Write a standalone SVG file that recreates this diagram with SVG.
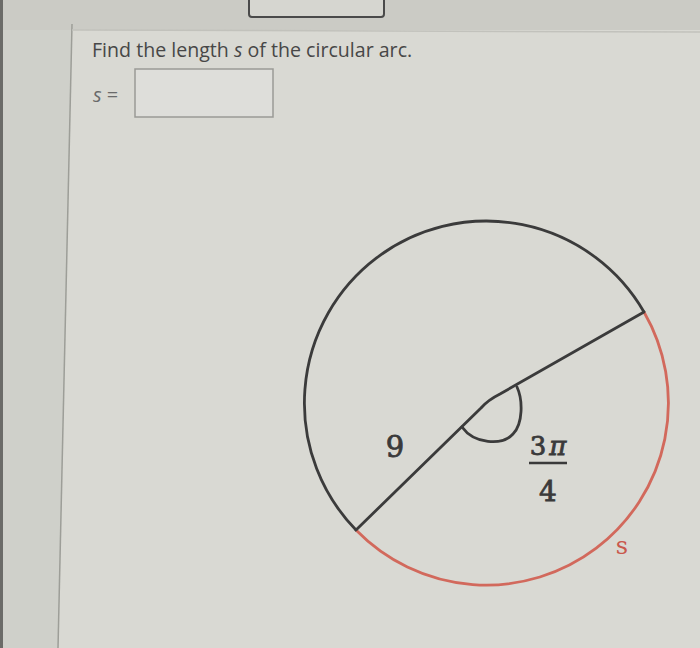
<svg xmlns="http://www.w3.org/2000/svg" width="700" height="648" viewBox="0 0 700 648">
  <style>
    .q { font-family: "Open Sans", "DejaVu Sans", sans-serif; fill: #474747; }
    .lbl { font-family: "DejaVu Serif", "Liberation Serif", serif; fill: #3a3a3a; stroke: #3a3a3a; stroke-width: 0.8; }
    .ink { fill: none; stroke: #3b3b3b; stroke-width: 2.8; stroke-linecap: round; stroke-linejoin: round; }
    .red { fill: none; stroke: #d2695c; stroke-width: 2.8; }
  </style>
  <g id="background">
    <rect x="0" y="0" width="700" height="648" fill="#d9d9d3"/>
    <polygon points="0,20 72,22 58,648 0,648" fill="#cfd0ca"/>
    <rect x="0" y="0" width="700" height="30" fill="#cbcbc5"/>
    <line x1="72" y1="24" x2="58" y2="648" stroke="#9d9e98" stroke-width="1.5"/>
    <line x1="72" y1="30" x2="700" y2="32" stroke="#c2c2bc" stroke-width="1.5"/>
    <rect x="0" y="0" width="3" height="648" fill="#6b6b68"/>
    <rect x="249" y="-6" width="135" height="23" rx="3" fill="#d6d6d0" stroke="#4a4a4a" stroke-width="2"/>
  </g>
  <g id="question">
    <text class="q" x="92" y="57" font-size="19.6">Find the length <tspan font-style="italic">s</tspan> of the circular arc.</text>
    <text class="q" x="93" y="102" font-size="20" style="fill:#6a6a6a"><tspan font-style="italic">s</tspan> =</text>
    <rect x="135" y="69" width="138" height="48" fill="#dededa" stroke="#9a9a96" stroke-width="1.5"/>
  </g>
  <g id="circle">
    <path class="ink" d="M356,530 A182,182 0 1 1 644,312"/>
    <path class="red" d="M644,312 A182,182 0 0 1 356,530"/>
  </g>
  <g id="connectors">
    <path class="ink" d="M644,312 L500,394 Q488,400 481,408 L356,530"/>
    <path class="ink" d="M462,427 C474,444 502,446 513,434 C523,424 523,400 517,387"/>
  </g>
  <g id="labels">
    <text class="lbl" x="395" y="457" font-size="29" text-anchor="middle">9</text>
    <text class="lbl" x="548" y="455" font-size="26" text-anchor="middle">3<tspan dx="3" font-style="italic">π</tspan></text>
    <line x1="529" y1="463" x2="567" y2="463" stroke="#3a3a3a" stroke-width="2.5"/>
    <text class="lbl" x="548" y="501" font-size="28" text-anchor="middle">4</text>
    <text class="lbl" x="622" y="554" font-size="24" text-anchor="middle" style="fill:#c9584c;stroke:none">s</text>
  </g>
</svg>
